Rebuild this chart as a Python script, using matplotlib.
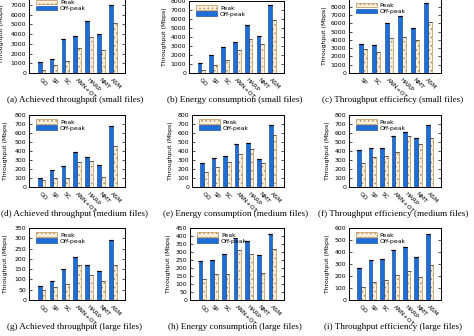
import matplotlib
matplotlib.use("Agg")
import matplotlib.pyplot as plt
import numpy as np

W, H = 474, 336
BLUE = "#1c6fd8"
BLUE_EDGE = "#0a3a8a"
PEAK_FACE = "#fbf0dc"
PEAK_HATCH = "#b98e58"

cats = ["GO", "SP", "SC", "ANN+OT", "HARP", "NMT", "ASM"]
cats_c = ["SP", "SC", "ANN+OT", "HARP", "NMT", "ASM"]

# (a) Achieved throughput, small files
a_off = [1150, 1450, 3450, 3850, 5350, 4000, 6950]
a_peak = [300, 800, 1250, 2600, 3700, 2400, 5150]
# (b) Energy consumption, small files
b_off = [1150, 2050, 2850, 3400, 5300, 4150, 7550]
b_peak = [350, 850, 1500, 2550, 3750, 3200, 5850]
# (c) Throughput efficiency, small files
c_off = [3550, 3400, 6100, 6850, 5450, 8450]
c_peak = [2850, 2500, 4250, 4350, 3950, 6150]
# (d) Achieved throughput, medium files
d_off = [100, 185, 235, 390, 335, 250, 675]
d_peak = [80, 95, 100, 280, 290, 115, 460]
# (e) Energy consumption, medium files
e_off = [270, 320, 340, 480, 490, 310, 690]
e_peak = [165, 220, 280, 365, 420, 265, 580]
# (f) Throughput efficiency, medium files
f_off = [410, 430, 430, 565, 610, 545, 690]
f_peak = [265, 335, 350, 385, 565, 480, 550]
# (g) Achieved throughput, large files
g_off = [70, 90, 150, 210, 170, 140, 290]
g_peak = [50, 65, 80, 170, 120, 90, 170]
# (h) Energy consumption, large files
h_off = [245, 250, 290, 390, 370, 280, 410]
h_peak = [130, 160, 160, 310, 290, 170, 320]
# (i) Throughput efficiency, large files
i_off = [270, 330, 340, 420, 445, 360, 550]
i_peak = [110, 150, 170, 210, 240, 190, 290]

panels = [
    # labels, off, peak, ylim, last tick, ystep, (x0, x1, ytop, ybot), caption
    (cats, a_off, a_peak, 8000, 7000, 1000, (29, 125, -4.7, 73),
     "(a) Achieved throughput (small files)"),
    (cats, b_off, b_peak, 8000, 8000, 1000, (189, 284, 1, 73),
     "(b) Energy consumption (small files)"),
    (cats_c, c_off, c_peak, 9000, 8000, 1000, (349, 441, -1.3, 73),
     "(c) Throughput efficiency (small files)"),
    (cats, d_off, d_peak, 800, 800, 100, (29, 125, 115, 187),
     "(d) Achieved throughput (medium files)"),
    (cats, e_off, e_peak, 800, 800, 100, (192, 284, 115, 187),
     "(e) Energy consumption (medium files)"),
    (cats, f_off, f_peak, 800, 800, 100, (349, 441, 115, 187),
     "(f) Throughput efficiency (medium files)"),
    (cats, g_off, g_peak, 350, 350, 50, (29, 125, 228, 300),
     "(g) Achieved throughput (large files)"),
    (cats, h_off, h_peak, 450, 450, 50, (190, 284, 228, 300),
     "(h) Energy consumption (large files)"),
    (cats, i_off, i_peak, 600, 600, 100, (349, 441, 228, 300),
     "(i) Throughput efficiency (large files)"),
]

plt.rcParams["hatch.linewidth"] = 0.6
fig = plt.figure(figsize=(W / 100, H / 100), dpi=100)

for labels, off, peak, ymax, ylast, ystep, (x0, x1, ytop, ybot), caption in panels:
    ax = fig.add_axes([x0 / W, 1 - ybot / H, (x1 - x0) / W, (ybot - ytop) / H])
    x = np.arange(len(labels))
    bw = 0.32
    ax.bar(x + bw / 2, peak, bw, color=PEAK_FACE, edgecolor=PEAK_HATCH,
           hatch="....", linewidth=0.5, label="Peak", zorder=2)
    ax.bar(x - bw / 2, off, bw, color=BLUE, edgecolor=BLUE_EDGE,
           linewidth=0.4, label="Off-peak", zorder=2)
    ax.errorbar(x - bw / 2, off, yerr=np.zeros(len(off)), fmt="none",
                ecolor="black", capsize=1.4, capthick=0.8, zorder=3)
    ax.errorbar(x + bw / 2, peak, yerr=np.zeros(len(peak)), fmt="none",
                ecolor="#555555", capsize=1.2, capthick=0.5, zorder=3)

    ax.set_xlim(-1.05, len(labels))
    ax.set_ylim(0, ymax)
    ax.set_yticks(np.arange(0, ylast + 1, ystep))
    ax.set_xticks(x)
    ax.set_xticklabels(labels, rotation=-45, ha="left", va="top",
                       rotation_mode="anchor", fontsize=4.4)
    ax.tick_params(axis="y", labelsize=4.4, direction="in", length=2,
                   width=0.5, pad=2, right=True)
    ax.tick_params(axis="x", direction="in", length=0, pad=3)
    for s in ax.spines.values():
        s.set_linewidth(0.7)
    ax.set_ylabel("Throughput (Mbps)", fontsize=4.4,
                  labelpad=5 if x0 < 100 else 3)

    ax.legend(loc="upper left", fontsize=4.4, frameon=False,
              handlelength=3.4, handleheight=0.7, borderaxespad=0.3,
              labelspacing=0.15, handletextpad=0.5,
              bbox_to_anchor=(0.03, 1.0))

    fig.text((x0 + x1) / 2 / W - 2 / W, 1 - (ybot + 27) / H, caption,
             ha="center", va="center", fontsize=6.6, family="Liberation Serif")

fig.savefig("out.png", dpi=100)
